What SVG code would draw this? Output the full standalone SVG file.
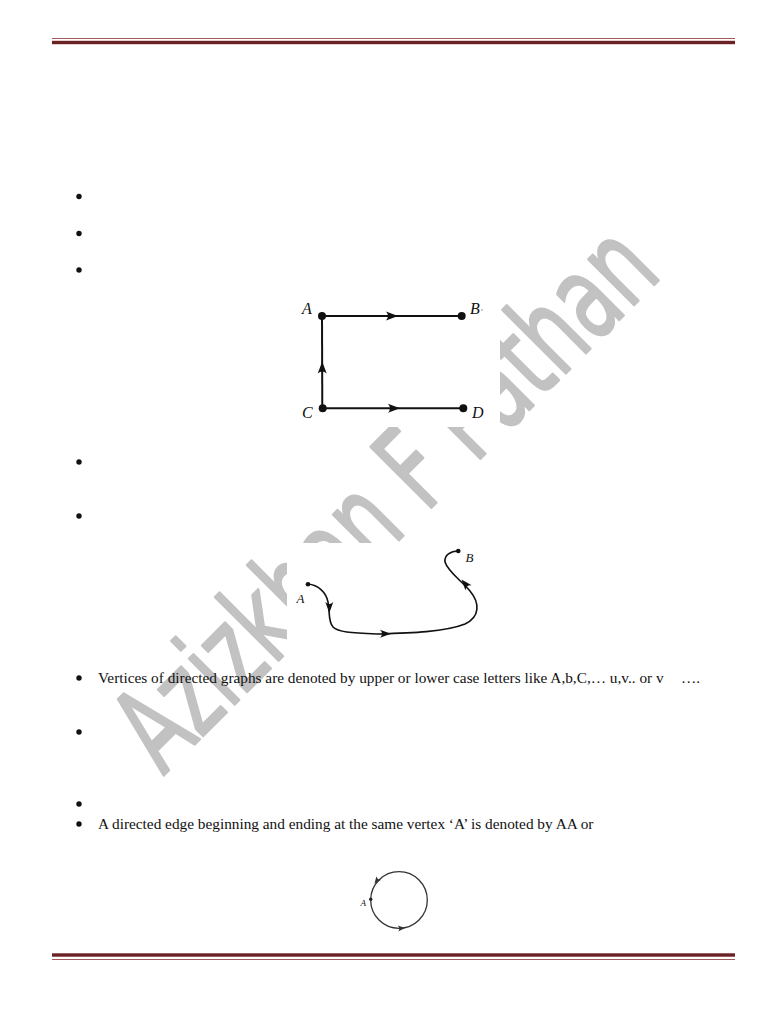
<svg xmlns="http://www.w3.org/2000/svg" xmlns:xlink="http://www.w3.org/1999/xlink" width="768" height="1024" viewBox="0 0 768 1024">
<style>
.txt{font-family:"Liberation Serif","Times New Roman",serif;font-size:15.3px;fill:#111}
.lbl{font-family:"Liberation Serif","Times New Roman",serif;font-style:italic;fill:#111}
.bul{fill:#111}
.edge{fill:none;stroke:#111;stroke-width:2}
.edge2{fill:none;stroke:#111;stroke-width:1.6}
.wm{font-family:"DejaVu Sans",sans-serif;font-size:118px;fill:#c2c2c2;stroke:#c2c2c2;stroke-width:2.5;stroke-linejoin:round;stroke-linecap:round}
</style>
<defs>
<path id="barb" d="M0,0 L-12,-4.5 Q-8,0 -12,4.5 Z" fill="#111"/>
<path id="barbs" d="M0,0 L-11,-4 Q-7,0 -11,4 Z" fill="#111"/>
<path id="barbt" d="M0,0 L-7,-3 Q-4.5,0 -7,3 Z" fill="#333"/>
</defs>
<rect width="768" height="1024" fill="#fff"/>
<g id="header-rule">
<rect x="52" y="38" width="683" height="1" fill="#a05a5a"/>
<rect x="52" y="40.5" width="683" height="4" fill="#c9a0a0"/>
<rect x="52" y="41" width="683" height="3" fill="#6b2226"/>
</g>
<g id="footer-rule">
<rect x="52" y="953" width="683" height="4" fill="#c9a0a0"/>
<rect x="52" y="953.5" width="683" height="3" fill="#6b2226"/>
<rect x="52" y="959" width="683" height="1" fill="#a05a5a"/>
</g>
<g id="watermark">
<text class="wm" x="163" y="776" transform="rotate(-45 163 776)" textLength="708" lengthAdjust="spacingAndGlyphs">Azizkhan F Pathan</text>
</g>
<g id="bullets">
<circle class="bul" cx="79" cy="196.5" r="2.7"/>
<circle class="bul" cx="79" cy="233.5" r="2.7"/>
<circle class="bul" cx="79" cy="270" r="2.7"/>
<circle class="bul" cx="79" cy="462" r="2.7"/>
<circle class="bul" cx="79" cy="516" r="2.7"/>
<circle class="bul" cx="79" cy="678" r="2.7"/>
<circle class="bul" cx="79" cy="732" r="2.7"/>
<circle class="bul" cx="79" cy="804" r="2.7"/>
<circle class="bul" cx="79" cy="824" r="2.7"/>
</g>
<g id="text-lines">
<text class="txt" x="98" y="683">Vertices of directed graphs are denoted by upper or lower case letters like A,b,C,… u,v.. or v</text>
<text class="txt" x="681" y="683">….</text>
<text class="txt" x="98" y="829">A directed edge beginning and ending at the same vertex ‘A’ is denoted by AA or</text>
</g>
<g id="figure1">
<rect x="285" y="290" width="215" height="137" fill="#fff"/>
<g id="connectors1">
<line class="edge" x1="322" y1="316" x2="462" y2="316"/>
<line class="edge" x1="323" y1="408.3" x2="463" y2="408.3"/>
<line class="edge" x1="322.3" y1="408.3" x2="322" y2="316"/>
<use xlink:href="#barb" transform="translate(398,316)"/>
<use xlink:href="#barb" transform="translate(400,408.3)"/>
<use xlink:href="#barb" transform="translate(322.2,361.5) rotate(-90)"/>
</g>
<g id="node-A1"><circle cx="322" cy="316" r="4" fill="#111"/><text class="lbl" x="302" y="314" style="font-size:16px">A</text></g>
<g id="node-B1"><circle cx="461.7" cy="316" r="4" fill="#111"/><text class="lbl" x="470" y="314" style="font-size:16px">B</text><circle cx="482" cy="310" r="0.7" fill="#666"/></g>
<g id="node-C1"><circle cx="322.7" cy="408.3" r="4" fill="#111"/><text class="lbl" x="302" y="418" style="font-size:16px">C</text></g>
<g id="node-D1"><circle cx="463.3" cy="408.3" r="4" fill="#111"/><text class="lbl" x="472" y="418" style="font-size:16px">D</text></g>
</g>
<g id="figure2">
<rect x="287" y="543" width="213" height="102" fill="#fff"/>
<g id="connectors2">
<path class="edge2" d="M308,584 C318,585 326,592 328,602 C330,612 328,622 333,627 C338,632 350,633 377,634 C410,633 445,632 465,624 C480,617 480,603 470,591 C462,581 448,572 445,562 C444,555 451,551 458,551"/>
<use xlink:href="#barbs" transform="translate(329.3,613) rotate(90)"/>
<use xlink:href="#barbs" transform="translate(391,633.8)"/>
<use xlink:href="#barbs" transform="translate(461.5,579.5) rotate(-130)"/>
</g>
<g id="node-A2"><circle cx="308" cy="584.3" r="2.3" fill="#111"/><text class="lbl" x="296.5" y="603" style="font-size:13px">A</text></g>
<g id="node-B2"><circle cx="458.3" cy="551" r="2.3" fill="#111"/><text class="lbl" x="465.5" y="562" style="font-size:13px">B</text></g>
</g>
<g id="figure3">
<g id="connectors3">
<circle cx="399" cy="900" r="28.3" fill="none" stroke="#333" stroke-width="1.3"/>
<use xlink:href="#barbt" transform="translate(374.5,883.5) rotate(128)"/>
<use xlink:href="#barbt" transform="translate(405,928) rotate(-5)"/>
</g>
<g id="node-A3"><circle cx="370.7" cy="899.3" r="1.7" fill="#222"/><text class="lbl" x="360.5" y="906" style="font-size:9px">A</text></g>
</g>
</svg>
